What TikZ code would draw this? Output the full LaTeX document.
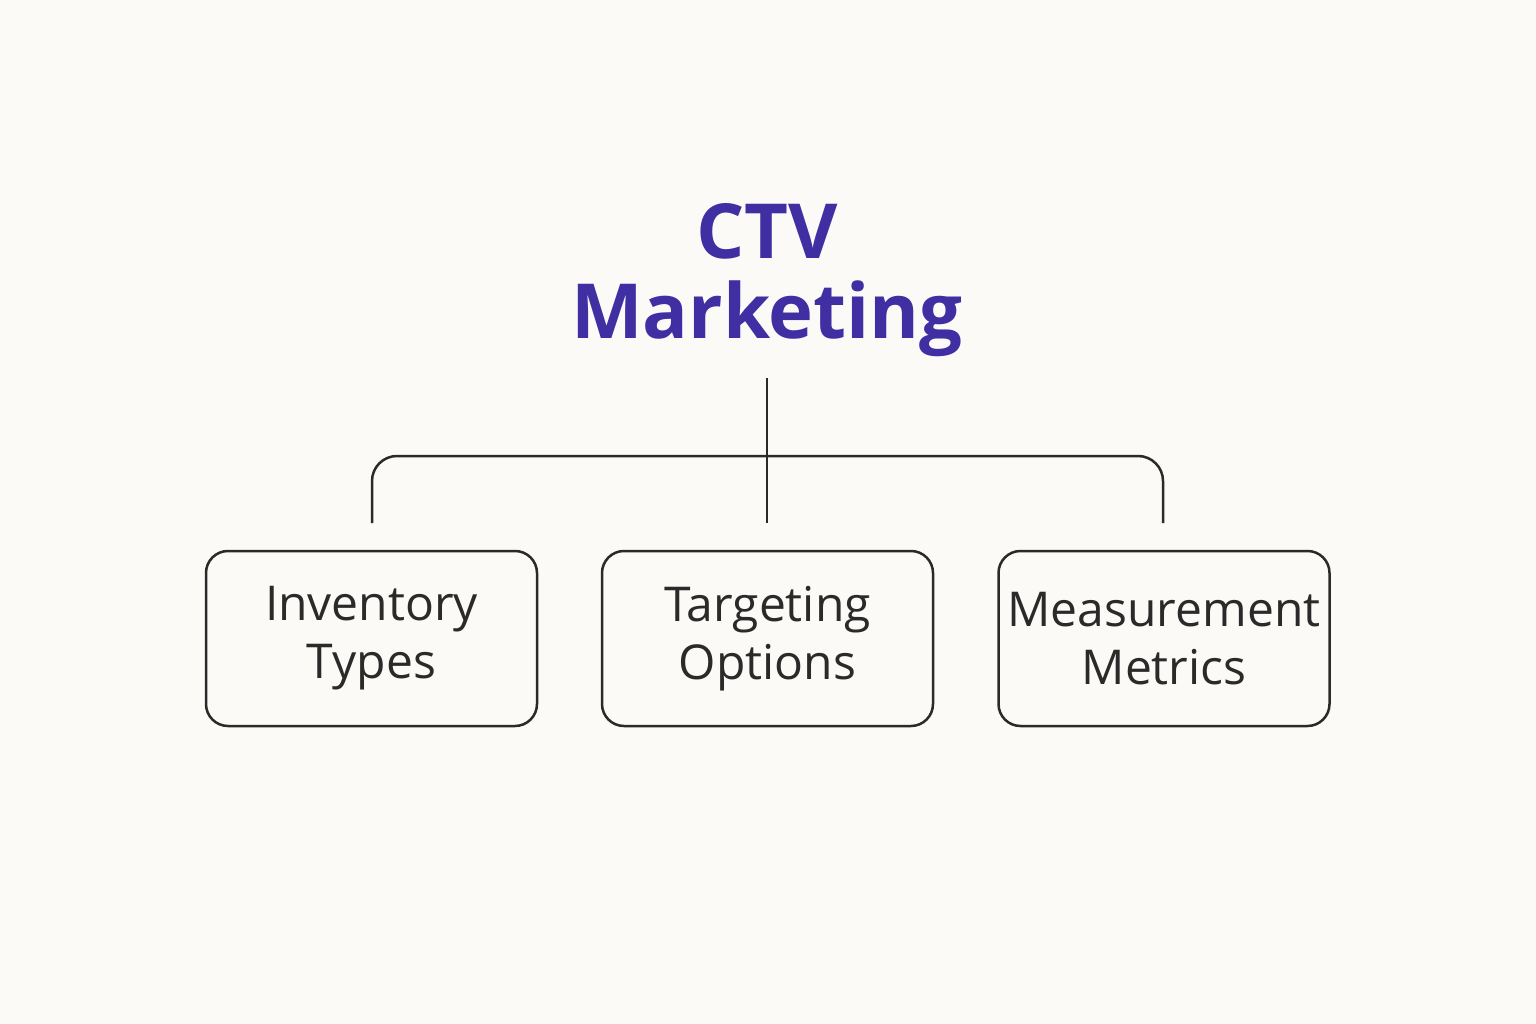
\documentclass[tikz,border=0pt]{standalone}
\usepackage{fontspec}
\setmainfont{Open Sans}
\definecolor{bg}{HTML}{FBFAF7}
\definecolor{ttl}{HTML}{3F2FA3}
\definecolor{ln}{HTML}{2A2A2A}
\begin{document}
\begin{tikzpicture}[x=1pt,y=-1pt,
  box/.style={draw=ln,line width=2.5pt,rounded corners=22pt,minimum width=331pt,minimum height=175pt,align=center,font=\fontsize{48}{58}\selectfont,text=ln},
  conn/.style={draw=ln,line width=2.5pt}]
\fill[bg] (0,0) rectangle (1536,1024);
\useasboundingbox (0,0) rectangle (1536,1024);
\node[text=ttl,font=\fontsize{76}{80}\selectfont\bfseries,align=center] (title) at (767,280) {CTV\\Marketing};
\node[box] (a) at (371.5,638.5) {Inventory\\Types};
\node[box] (b) at (767.5,638.5) {Targeting\\Options};
\node[box] (c) at (1164,638.5) {Measurement\\Metrics};
\coordinate (top) at (767,378);
\coordinate (ea) at (372,523);
\coordinate (eb) at (767,523);
\coordinate (ec) at (1163,523);
\draw[conn] (top) -- (eb);
\draw[conn,rounded corners=25pt] (ea) -- (372,456) -- (1163,456) -- (ec);
\end{tikzpicture}
\end{document}
